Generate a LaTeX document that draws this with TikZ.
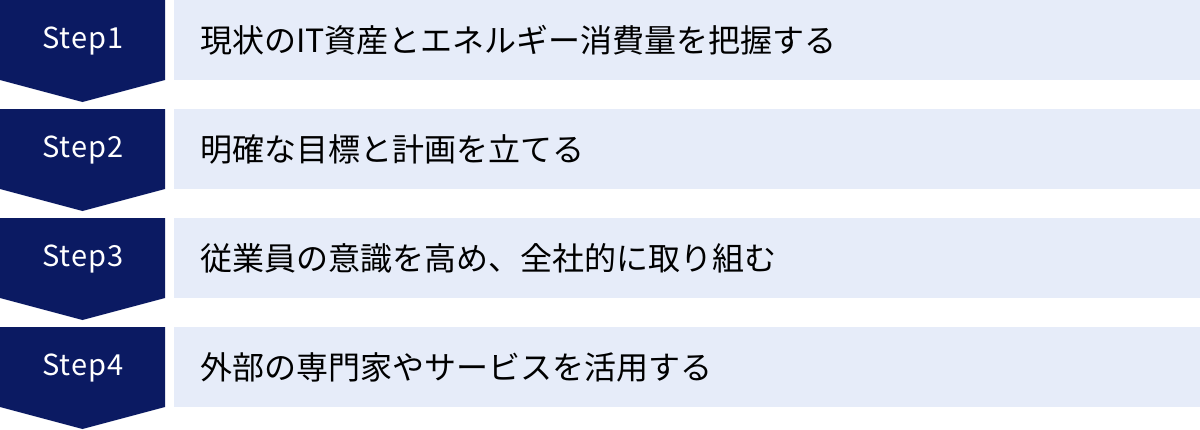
\documentclass[tikz,border=0pt]{standalone}
\usepackage{fontspec}
\setmainfont{Noto Sans CJK JP}
\newfontfamily\steplabelfont[LetterSpace=4]{Noto Sans CJK JP}
\usetikzlibrary{positioning}
\definecolor{stepnavy}{HTML}{0B1A62}
\definecolor{stepbg}{HTML}{E6ECF9}

\tikzset{
    steplabel/.style={text=white, font=\steplabelfont\fontsize{29}{34}\selectfont},
    stepbox/.style={fill=stepbg, anchor=north west, minimum width=1026pt, minimum height=80pt,
        text width=974pt, inner xsep=26pt, inner ysep=0pt, align=left,
        font=\fontsize{32}{38}\selectfont}
}

\begin{document}
\begin{tikzpicture}[x=1pt, y=-1pt]
    \useasboundingbox (0,0) rectangle (1200,429);

    % Step 1
    \fill[stepnavy] (0,0) -- (165,0) -- (165,80) -- (82.5,102) -- (0,80) -- cycle;
    \node[steplabel] (step1) at (83,41) {Step1};
    \node[stepbox] (task1) at (174,0) {現状のIT資産とエネルギー消費量を把握する};

    % Step 2
    \fill[stepnavy] (0,109) -- (165,109) -- (165,189) -- (82.5,211) -- (0,189) -- cycle;
    \node[steplabel] (step2) at (83,150) {Step2};
    \node[stepbox] (task2) at (174,109) {明確な目標と計画を立てる};

    % Step 3
    \fill[stepnavy] (0,218) -- (165,218) -- (165,298) -- (82.5,320) -- (0,298) -- cycle;
    \node[steplabel] (step3) at (83,259) {Step3};
    \node[stepbox] (task3) at (174,218) {従業員の意識を高め、全社的に取り組む};

    % Step 4
    \fill[stepnavy] (0,327) -- (165,327) -- (165,407) -- (82.5,429) -- (0,407) -- cycle;
    \node[steplabel] (step4) at (83,368) {Step4};
    \node[stepbox] (task4) at (174,327) {外部の専門家やサービスを活用する};
\end{tikzpicture}
\end{document}
